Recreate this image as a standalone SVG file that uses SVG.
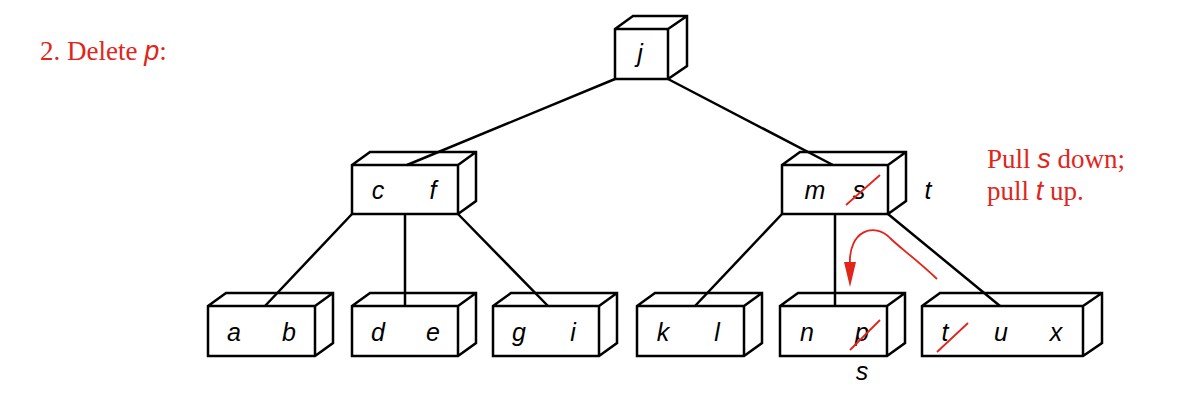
<svg xmlns="http://www.w3.org/2000/svg" width="1194" height="402" viewBox="0 0 1194 402">
<defs>
<style>
.b{fill:#fff;stroke:#000;stroke-width:2.5;stroke-linejoin:miter}
.l{font-family:"Liberation Sans",Arial,sans-serif;font-style:italic;font-size:25px;fill:#000;text-anchor:middle}
.r{font-family:"Liberation Serif","Times New Roman",serif;font-size:27px;fill:#e0251b}
.ri{font-family:"Liberation Sans",Arial,sans-serif;font-style:italic}
.c{stroke:#000;stroke-width:2.5;fill:none}
.x{stroke:#e0251b;stroke-width:1.8;fill:none}
</style>
</defs>
<rect width="1194" height="402" fill="#fff"/>
<text class="r" x="40" y="60">2. Delete <tspan class="ri">p</tspan>:</text>
<text class="r" x="987" y="168">Pull <tspan class="ri">s</tspan> down;</text>
<text class="r" x="987" y="200">pull <tspan class="ri">t</tspan> up.</text>
<g id="n-j"><path class="b" d="M615,29 L633,16 L687,16 L687,66 L668,79 L615,79 Z M615,29 L668,29 L687,16 M668,29 L668,79"/><text class="l" x="640" y="62">j</text></g>
<g id="n-cf"><path class="b" d="M352,165 L370,152 L476,152 L476,201 L458,214 L352,214 Z M352,165 L458,165 L476,152 M458,165 L458,214"/><text class="l" x="378" y="199">c</text><text class="l" x="433" y="199">f</text></g>
<g id="n-ms"><path class="b" d="M782,165 L800,152 L906,152 L906,201 L888,214 L782,214 Z M782,165 L888,165 L906,152 M888,165 L888,214"/><text class="l" x="815" y="199">m</text><text class="l" x="859" y="199">s</text><text class="l" x="928" y="199">t</text></g>
<g id="n-ab"><path class="b" d="M208,306 L226,293 L333,293 L333,343 L315,356 L208,356 Z M208,306 L315,306 L333,293 M315,306 L315,356"/><text class="l" x="234" y="341">a</text><text class="l" x="289" y="341">b</text></g>
<g id="n-de"><path class="b" d="M352,306 L370,293 L476,293 L476,343 L458,356 L352,356 Z M352,306 L458,306 L476,293 M458,306 L458,356"/><text class="l" x="378" y="341">d</text><text class="l" x="433" y="341">e</text></g>
<g id="n-gi"><path class="b" d="M493,306 L511,293 L617,293 L617,343 L599,356 L493,356 Z M493,306 L599,306 L617,293 M599,306 L599,356"/><text class="l" x="519" y="341">g</text><text class="l" x="573" y="341">i</text></g>
<g id="n-kl"><path class="b" d="M637,306 L655,293 L762,293 L762,343 L744,356 L637,356 Z M637,306 L744,306 L762,293 M744,306 L744,356"/><text class="l" x="663" y="341">k</text><text class="l" x="717" y="341">l</text></g>
<g id="n-np"><path class="b" d="M780,306 L798,293 L905,293 L905,343 L887,356 L780,356 Z M780,306 L887,306 L905,293 M887,306 L887,356"/><text class="l" x="807" y="341">n</text><text class="l" x="862" y="341">p</text><text class="l" x="862" y="380">s</text></g>
<g id="n-tux"><path class="b" d="M922,306 L940,293 L1102,293 L1102,343 L1083,356 L922,356 Z M922,306 L1083,306 L1102,293 M1083,306 L1083,356"/><text class="l" x="945" y="341">t</text><text class="l" x="1001" y="341">u</text><text class="l" x="1056" y="341">x</text></g>
<g id="connectors">
<path class="c" d="M615,79 L407,165 M668,79 L833,165 M352,214 L265,306 M405,214 L405,306 M458,214 L548,306 M782,214 L695,306 M835,214 L835,306 M888,214 L1000,306"/>
</g>
<g id="marks">
<path class="x" d="M846,205 L880,175 M850,350 L880,320 M937,352 L968,323"/>
<path class="x" d="M937,279 C915,258 900,248 890,238 C875,222 848,230 850,265"/>
<path d="M844,262 L856,262 L850,287 Z" fill="#e0251b"/>
</g>
</svg>
